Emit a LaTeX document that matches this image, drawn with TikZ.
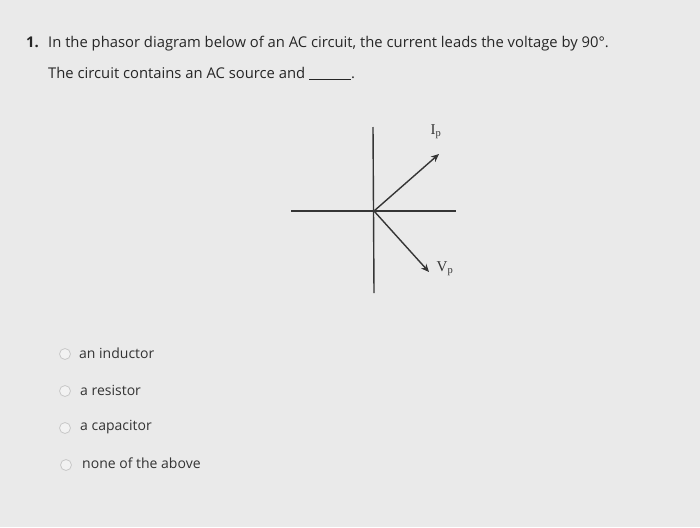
\documentclass[tikz,border=0pt]{standalone}
\usepackage{fontspec}
\setmainfont{Open Sans}
\newfontfamily\serifl{Liberation Serif}
\usetikzlibrary{arrows.meta}
\definecolor{bg}{HTML}{EAEAEA}
\definecolor{txt}{HTML}{262626}
\definecolor{opt}{HTML}{333333}
\definecolor{ring}{HTML}{C8C8C8}
\definecolor{axis}{HTML}{353535}
\begin{document}
\begin{tikzpicture}[x=1pt,y=-1pt,
  qtext/.style={anchor=base west,inner sep=0pt,text=txt,font=\fontsize{14.8}{17}\selectfont},
  otext/.style={anchor=west,inner sep=0pt,text=opt,font=\fontsize{14}{16}\selectfont},
  radio/.style={circle,draw=ring,fill=bg!60!white,line width=0.8pt,minimum size=11pt,inner sep=0pt},
  axisline/.style={draw=axis,line width=1.4pt},
  phasor/.style={draw=axis,line width=1.4pt,-{Stealth[length=8pt,width=7pt]}},
  plabel/.style={inner sep=0pt,text=axis,font=\serifl\fontsize{15}{17}\selectfont}]
\fill[bg] (0,0) rectangle (700,527);
\useasboundingbox (0,0) rectangle (700,527);
% question
\node[qtext,font=\bfseries\fontsize{14.8}{17}\selectfont] (num) at (26,48) {1.};
\node[qtext] (q1) at (48,48) {In the phasor diagram below of an AC circuit, the current leads the voltage by 90°.};
\node[qtext] (q2) at (48,78) {The circuit contains an AC source and \rule[-1.5pt]{42pt}{0.6pt}.};
% phasor diagram
\coordinate (o) at (374,211);
\coordinate (top) at (373,127);
\coordinate (bot) at (374,293);
\coordinate (left) at (291,211);
\coordinate (right) at (456,211);
\coordinate (itip) at (439,154);
\coordinate (vtip) at (429,272);
\draw[axisline] (top) -- (bot);
\draw[axisline] (left) -- (right);
\draw[phasor] (o) -- (itip);
\draw[phasor] (o) -- (vtip);
\node[plabel] (ip) at (436,132) {I\textsubscript{p}};
\node[plabel] (vp) at (445,269) {V\textsubscript{p}};
% options
\node[radio] (r1) at (65,354) {};
\node[radio] (r2) at (65,391) {};
\node[radio] (r3) at (65,428) {};
\node[radio] (r4) at (66,465) {};
\node[otext] (o1) at (79,353) {an inductor};
\node[otext] (o2) at (80,390) {a resistor};
\node[otext] (o3) at (80,427) {a capacitor};
\node[otext] (o4) at (82,463) {none of the above};
\end{tikzpicture}
\end{document}
